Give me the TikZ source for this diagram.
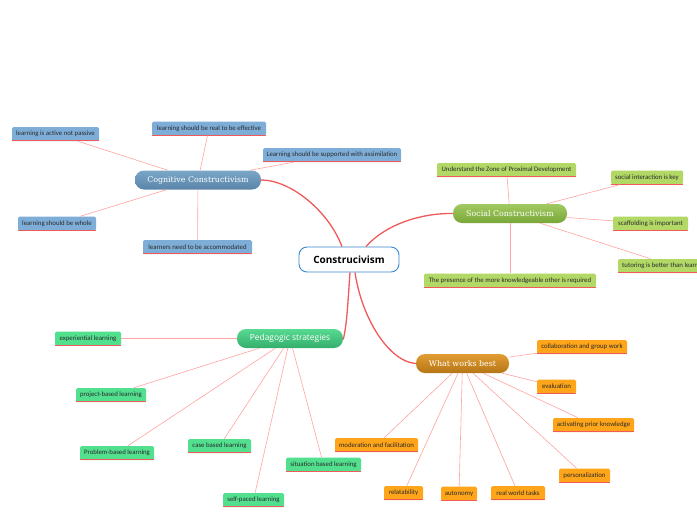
\documentclass[tikz,border=0pt]{standalone}
\usepackage{fontspec}
\setmainfont{Carlito}
\newfontfamily\leaffont{Carlito}
\newfontfamily\slabfont{DejaVu Serif}
\newfontfamily\pedfont{Open Sans}
\newfontfamily\cenfont{Open Sans}
\definecolor{mainred}{HTML}{F05A5A}
\definecolor{thinred}{HTML}{FFA3A3}
\definecolor{ulred}{HTML}{F25A5A}
\definecolor{cenblue}{HTML}{3A8AD0}
\definecolor{cogleafc}{HTML}{7EAED8}
\definecolor{socleafc}{HTML}{B2D866}
\definecolor{pedleafc}{HTML}{52E08F}
\definecolor{wwbleafc}{HTML}{FFA51A}
\definecolor{leaftext}{HTML}{2A2A2A}
\definecolor{cogtop}{HTML}{7AA6C8}
\definecolor{cogbot}{HTML}{5A84A8}
\definecolor{soctop}{HTML}{A2CA62}
\definecolor{socbot}{HTML}{78A638}
\definecolor{pedtop}{HTML}{58DA92}
\definecolor{pedbot}{HTML}{34AE6C}
\definecolor{wwbtop}{HTML}{E29C32}
\definecolor{wwbbot}{HTML}{B57616}
\begin{document}
\begin{tikzpicture}[x=1pt,y=-1pt,
  leaf/.style={rectangle, rounded corners=1.5pt, minimum height=14, inner sep=0pt,
    text=leaftext, font=\leaffont\fontsize{6.8}{8}\selectfont},
  cogleaf/.style={leaf, fill=cogleafc},
  socleaf/.style={leaf, fill=socleafc},
  pedleaf/.style={leaf, fill=pedleafc},
  wwbleaf/.style={leaf, fill=wwbleafc},
  pill/.style={rectangle, rounded corners=9pt, minimum height=19, inner sep=0pt, text=white},
  slabtext/.style={font=\slabfont\fontsize{7.9}{9}\selectfont},
  mainline/.style={draw=mainred, line width=1.3pt},
  thin/.style={draw=thinred, line width=0.6pt},
  uline/.style={draw=ulred, line width=1pt},
]
\useasboundingbox (0,0) rectangle (697,520);
\fill[white] (0,0) rectangle (697,520);
\begin{scope}
\clip (0,0) rectangle (697,520);

% central
\node[rectangle, rounded corners=8pt, draw=cenblue, line width=0.9pt, fill=white,
  minimum width=100, minimum height=25, inner sep=0pt,
  font=\cenfont\bfseries\fontsize{10}{12}\selectfont] (cen) at (349,259.5) {Construcivism};

% main topics
\node[pill, slabtext, top color=cogtop, bottom color=cogbot, minimum width=126] (cog) at (198,180) {Cognitive Constructivism};
\node[pill, slabtext, top color=soctop, bottom color=socbot, minimum width=114] (soc) at (510,213.5) {Social Constructivism};
\node[pill, top color=pedtop, bottom color=pedbot, minimum width=106,
  font=\pedfont\fontsize{8.4}{10}\selectfont] (ped) at (290,338.5) {Pedagogic strategies};
\node[pill, slabtext, top color=wwbtop, bottom color=wwbbot, minimum width=93] (wwb) at (462.5,363.5) {What works best};

% cognitive leaves
\node[cogleaf, minimum width=87] (c1) at (55.5,134) {learning is active not passive};
\node[cogleaf, minimum width=114] (c2) at (209,128.5) {learning should be real to be effective};
\node[cogleaf, minimum width=138] (c3) at (332,155) {Learning should be supported with assimilation};
\node[cogleaf, minimum width=78] (c4) at (57,223.5) {learning should be whole};
\node[cogleaf, minimum width=109] (c5) at (197.5,247) {learners need to be accommodated};

% social leaves
\node[socleaf, minimum width=139] (s1) at (506.5,170) {Understand the Zone of Proximal Development};
\node[socleaf, minimum width=72] (s2) at (647,177.5) {social interaction is key};
\node[socleaf, minimum width=75] (s3) at (650.5,223.5) {scaffolding is important};
\node[socleaf, inner xsep=4pt, anchor=west] (s4) at (618,266) {tutoring is better than learning alone};
\node[socleaf, minimum width=172] (s5) at (510,280.5) {The presence of the more knowledgeable other is required};

% pedagogic leaves
\node[pedleaf, minimum width=66] (p1) at (88,338.5) {experiential learning};
\node[pedleaf, minimum width=70] (p2) at (111,395) {project-based learning};
\node[pedleaf, minimum width=74] (p3) at (117,453) {Problem-based learning};
\node[pedleaf, minimum width=63] (p4) at (219.5,446) {case based learning};
\node[pedleaf, minimum width=75] (p5) at (323.5,464.5) {situation based learning};
\node[pedleaf, minimum width=61] (p6) at (253.5,500) {self-paced learning};

% what works best leaves
\node[wwbleaf, minimum width=90] (w1) at (582,347) {collaboration and group work};
\node[wwbleaf, minimum width=39] (w2) at (556.5,386.5) {evaluation};
\node[wwbleaf, minimum width=81] (w3) at (593.5,425) {activating prior knowledge};
\node[wwbleaf, minimum width=51] (w4) at (584.5,475.5) {personalization};
\node[wwbleaf, minimum width=54] (w5) at (518,493) {real world tasks};
\node[wwbleaf, minimum width=36] (w6) at (459,493.5) {autonomy};
\node[wwbleaf, minimum width=39] (w7) at (403.5,493) {relatability};
\node[wwbleaf, minimum width=83] (w8) at (376.5,445) {moderation and facilitation};

% underlines
\foreach \n in {c1,c2,c3,c4,c5,s1,s2,s3,s4,s5,p1,p2,p3,p4,p5,p6,w1,w2,w3,w4,w5,w6,w7,w8}
  \draw[uline] ([yshift=0.5]\n.south west) -- ([yshift=0.5]\n.south east);

% thin connectors
\foreach \n in {c1,c2,c3,c4,c5} \draw[thin] (cog) -- (\n);
\foreach \n in {s1,s2,s3,s4,s5} \draw[thin] (soc) -- (\n);
\foreach \n in {p1,p2,p3,p4,p5,p6} \draw[thin] (ped) -- (\n);
\foreach \n in {w1,w2,w3,w4,w5,w6,w7,w8} \draw[thin] (wwb) -- (\n);

% main curves
\draw[mainline] ([xshift=-7]cen.north) .. controls (328,210) and (290,180) .. (cog.east);
\draw[mainline] ([xshift=17]cen.north) .. controls (385,225) and (420,213) .. (soc.west);
\draw[mainline] ([xshift=1]cen.south) .. controls (348,300) and (347,325) .. ([yshift=-1]ped.east);
\draw[mainline] ([xshift=6]cen.south) .. controls (362,320) and (390,362) .. (wwb.west);
\end{scope}
\end{tikzpicture}
\end{document}
